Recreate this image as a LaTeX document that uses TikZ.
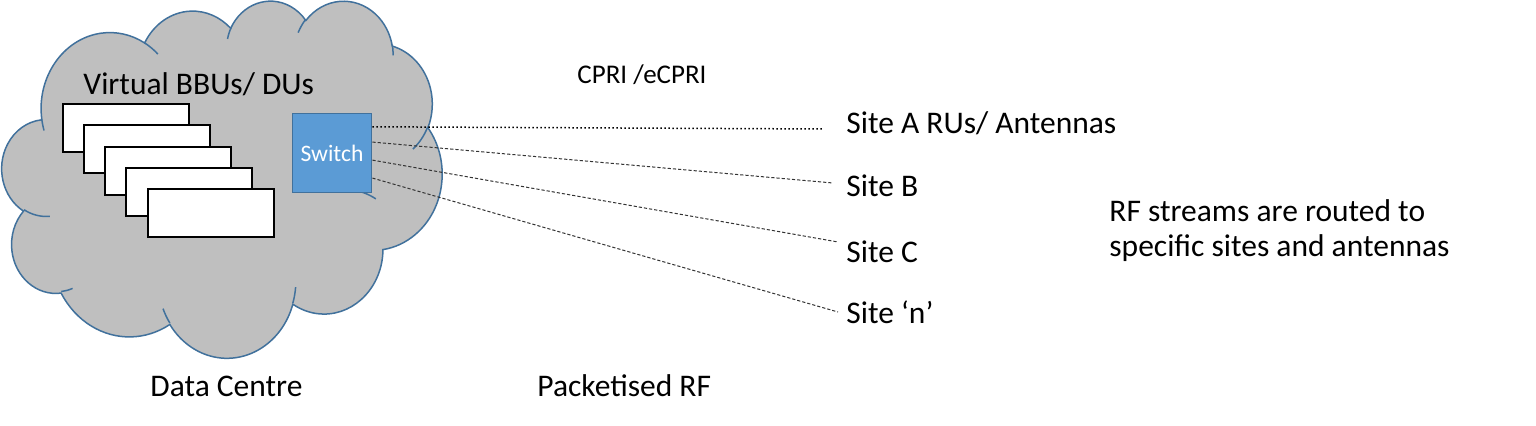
\documentclass[tikz,border=0pt]{standalone}
\usepackage{fontspec}
\setmainfont{Carlito}
\usetikzlibrary{calc}
\definecolor{cloudfill}{HTML}{BFBFBF}
\definecolor{cloudline}{HTML}{41719C}
\definecolor{swfill}{HTML}{5B9BD5}
% OOXML-style arcTo: wR, hR, start (visual) angle, sweep
\newcommand\ooarc[4]{arc[x radius=#1, y radius=#2,
  start angle={atan2((#1)*sin(#3),(#2)*cos(#3))},
  delta angle={Mod(atan2((#1)*sin((#3)+(#4)),(#2)*cos((#3)+(#4)))-atan2((#1)*sin(#3),(#2)*cos(#3)),360)}]}
\tikzset{
  cloudbody/.style={fill=cloudfill, draw=cloudline, line width=0.75pt},
  cloudedge/.style={draw=cloudline, line width=0.75pt},
  bbu/.style={draw=black, fill=white, line width=1pt, minimum width=63pt, minimum height=24pt, inner sep=0pt},
  switchbox/.style={draw=cloudline, fill=swfill, line width=0.75pt, minimum size=39.7pt, inner sep=0pt,
    text=white, font=\fontsize{11.8pt}{13pt}\selectfont},
  bigtext/.style={font=\fontsize{15.75pt}{17.5pt}\selectfont, inner sep=0pt, anchor=base west},
  midtext/.style={font=\fontsize{13.5pt}{15pt}\selectfont, inner sep=0pt, anchor=base west},
  linka/.style={draw=black, line width=0.75pt, dash pattern=on 0.75pt off 1.25pt},
  linkb/.style={draw=black!80, line width=0.5pt, dash pattern=on 1.6pt off 1pt},
}
\begin{document}
\begin{tikzpicture}[x=0.5pt,y=-0.5pt]
\useasboundingbox (0,0) rectangle (1536,426);
\fill[white] (0,0) rectangle (1536,426);

% cloud
\begin{scope}[shift={(2,0)}, x=0.50926pt, y=-0.41319pt]
\path[cloudbody] (39.00,143.70)
  \ooarc{67.53}{91.90}{-190.488}{123.781}
  \ooarc{53.33}{72.67}{-144.102}{89.945}
  \ooarc{43.65}{59.45}{-145.808}{99.723}
  \ooarc{48.57}{65.95}{-130.986}{117.242}
  \ooarc{53.33}{72.73}{-78.709}{109.027}
  \ooarc{67.75}{92.20}{-46.267}{130.269}
  \ooarc{57.85}{78.67}{0.625}{114.033}
  \ooarc{67.52}{92.15}{22.452}{115.173}
  \ooarc{77.20}{105.43}{66.243}{75.711}
  \ooarc{43.60}{59.18}{-274.942}{146.736}
  \ooarc{43.45}{59.45}{-246.829}{152.519}
  -- cycle;
\path[cloudedge]
  (46.93,261.77) \ooarc{43.45}{59.45}{86.742}{26.430}
  (69.28,348.99) \ooarc{43.60}{59.18}{73.611}{11.448}
  (164.78,390.90) \ooarc{67.52}{92.15}{137.624}{14.081}
  (288.27,347.51) \ooarc{67.52}{92.15}{6.453}{15.998}
  (341.29,229.54) \ooarc{57.85}{78.67}{-86.959}{20.925}
  (417.98,153.54) \ooarc{53.33}{72.73}{30.318}{27.752}
  (383.24,54.26) \ooarc{48.57}{65.95}{-13.744}{14.859}
  (290.78,39.52) \ooarc{48.57}{65.95}{-149.182}{18.195}
  (221.41,47.20) \ooarc{43.65}{59.45}{-163.494}{17.686}
  (140.00,51.92) \ooarc{67.53}{91.90}{-66.707}{12.319}
  (41.27,157.89) \ooarc{67.53}{91.90}{157.654}{11.858};
\end{scope}

% virtual BBUs
\node[bigtext] (vbbu) at (83,95) {Virtual BBUs/ DUs};
\node[bbu] (bbu1) at (125.7,128.3) {};
\node[bbu] (bbu2) at (146.9,149.5) {};
\node[bbu] (bbu3) at (168.1,170.7) {};
\node[bbu] (bbu4) at (189.3,191.9) {};
\node[bbu] (bbu5) at (210.5,213.1) {};

% switch
\node[switchbox] (sw) at (332,153) {Switch};

% texts
\node[midtext] (cpri) at (577,84) {CPRI /eCPRI};
\node[bigtext] (siteA) at (846,134) {Site A RUs/ Antennas};
\node[bigtext] (siteB) at (846,197) {Site B};
\node[bigtext] (siteC) at (846,263) {Site C};
\node[bigtext] (siteN) at (846,324) {Site ‘n’};
\node[bigtext, align=left] (note) at (1109,257) {RF streams are routed to\\specific sites and antennas};
\node[bigtext] (dc) at (150,397) {Data Centre};
\node[bigtext] (prf) at (537,397) {Packetised RF};

% connector ends
\coordinate (sA) at ($(sw.north east)!0.176!(sw.south east)$);
\coordinate (sB) at ($(sw.north east)!0.365!(sw.south east)$);
\coordinate (sC) at ($(sw.north east)!0.588!(sw.south east)$);
\coordinate (sN) at ($(sw.north east)!0.81!(sw.south east)$);
\coordinate (eA) at (823,129);
\coordinate (eB) at (833,183);
\coordinate (eC) at (838,242);
\coordinate (eN) at (838,312);
\draw[linka] (sA) -- (eA);
\draw[linkb] (sB) -- (eB);
\draw[linkb] (sC) -- (eC);
\draw[linkb] (sN) -- (eN);
\end{tikzpicture}
\end{document}
